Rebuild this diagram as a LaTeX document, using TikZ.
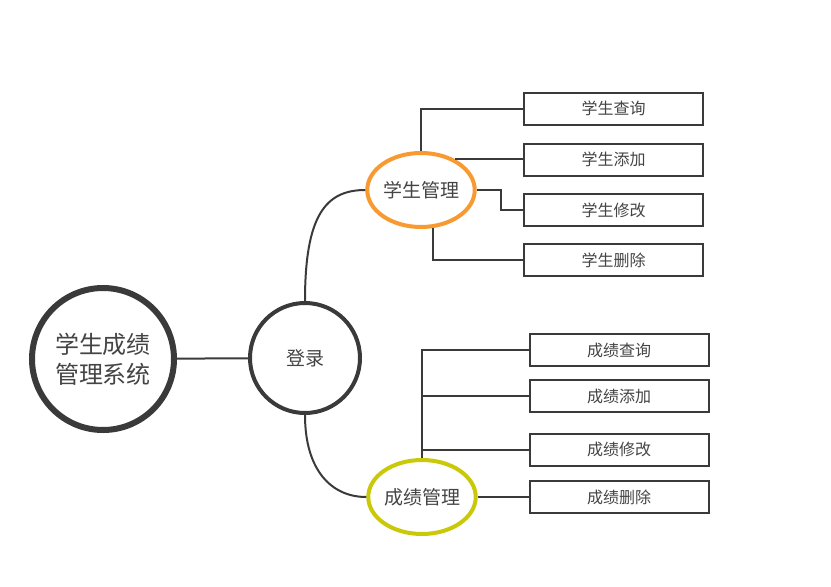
\documentclass[tikz,border=0pt]{standalone}
\usepackage{fontspec}
\setmainfont{Noto Sans CJK SC}
\usetikzlibrary{positioning,shapes.geometric}
\definecolor{inkgray}{HTML}{3A3A3A}
\definecolor{txtgray}{HTML}{444444}
\definecolor{orangering}{HTML}{F79A32}
\definecolor{limering}{HTML}{C9C908}

\begin{document}
\begin{tikzpicture}[
x=1pt, y=-1pt,
every node/.style={text=txtgray},
root/.style={
draw=inkgray,
circle,
line width=6pt,
fill=white,
align=center,
minimum size=142pt,
inner sep=0pt,
font=\fontsize{24}{30}\selectfont
},
hub/.style={
draw=inkgray,
circle,
line width=4pt,
fill=white,
minimum size=110pt,
inner sep=0pt,
font=\fontsize{19}{23}\selectfont
},
topic/.style={
ellipse,
line width=4pt,
fill=white,
minimum width=104pt,
minimum height=74pt,
inner sep=0pt,
font=\fontsize{19}{23}\selectfont
},
leaf/.style={
draw=inkgray,
line width=2pt,
fill=white,
minimum width=179pt,
minimum height=32pt,
inner sep=0pt,
font=\fontsize{16}{20}\selectfont
},
link/.style={draw=inkgray,line width=2pt}
]
\useasboundingbox (0,0) rectangle (831,587);

% Centre
\node[root] (system) at (103,359) {学生成绩\\管理系统};
\node[hub] (login) at (305,358) {登录};

% Branches
\node[topic, draw=orangering] (stumgr) at (421,190) {学生管理};
\node[topic, draw=limering] (scoremgr) at (422,497) {成绩管理};

% Student leaves
\node[leaf] (stuquery) at (613.5,108.5) {学生查询};
\node[leaf] (stuadd) at (613.5,159.5) {学生添加};
\node[leaf] (stuedit) at (613.5,210) {学生修改};
\node[leaf] (studel) at (613.5,260) {学生删除};

% Score leaves
\node[leaf] (scquery) at (619,350) {成绩查询};
\node[leaf] (scadd) at (619,396) {成绩添加};
\node[leaf] (scedit) at (619,449.5) {成绩修改};
\node[leaf] (scdel) at (619,497) {成绩删除};

% Links
\draw[link] (system) -- (login);
\draw[link] (login.north) .. controls +(0,-85) and +(-40,0) .. (stumgr.west);
\draw[link] (login.south) .. controls +(0,55) and +(-35,0) .. (scoremgr.west);

\draw[link] (stumgr.north) |- (stuquery.west);
\draw[link] (stumgr.42) -- (stumgr.42 -| stuadd.west);
\draw[link] (stumgr.east) -- ++(24,0) |- (stuedit.west);
\draw[link] (stumgr.-72) |- (studel.west);

\draw[link] (scoremgr.north) |- (scquery.west);
\draw[link] (scadd.west) -- (scadd.west -| scoremgr.north);
\draw[link] (scedit.west) -- (scedit.west -| scoremgr.north);
\draw[link] (scoremgr.east) -- (scdel.west);

\end{tikzpicture}
\end{document}
